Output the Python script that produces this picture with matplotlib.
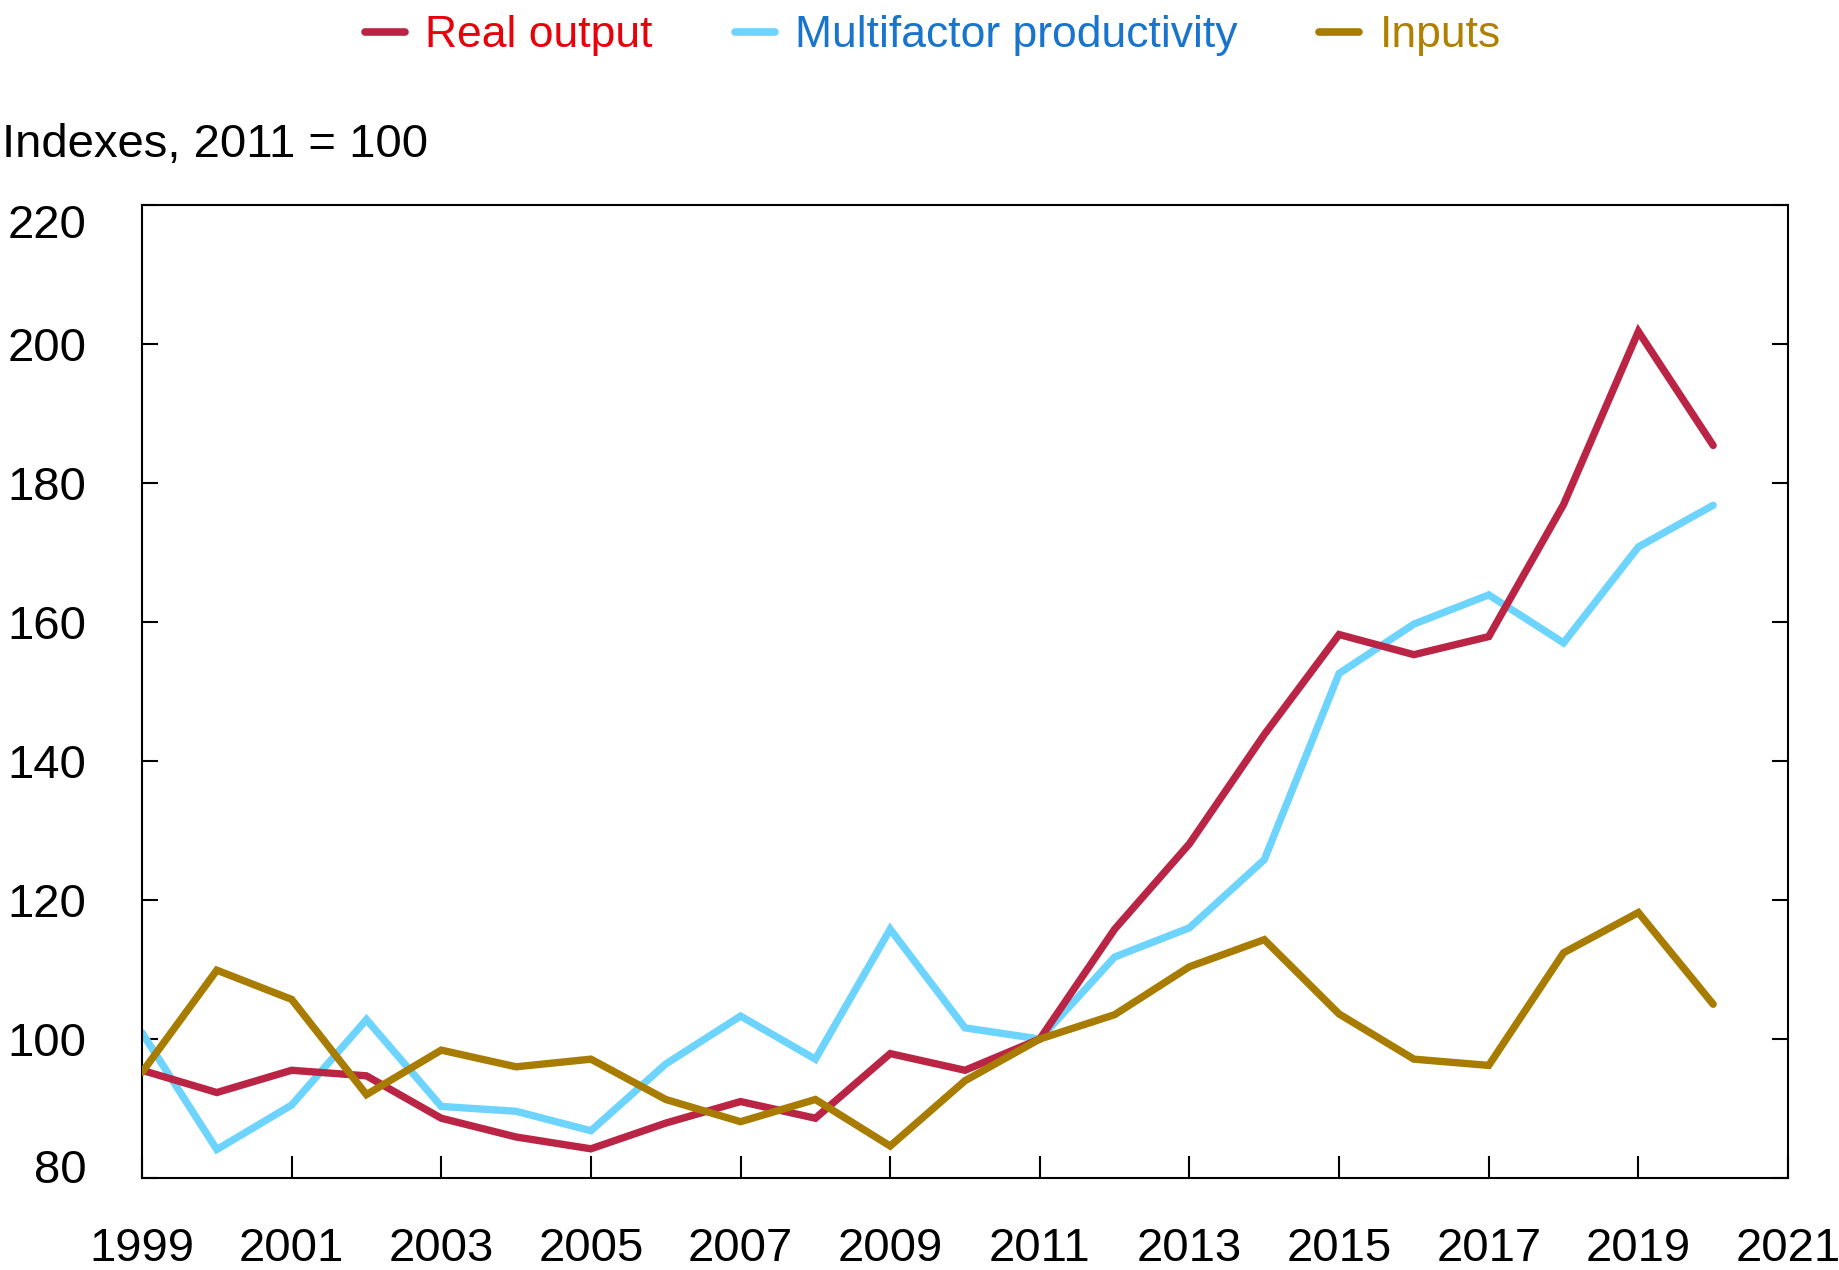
import matplotlib
matplotlib.use("Agg")
import matplotlib.pyplot as plt
import matplotlib.transforms as mtransforms
from matplotlib.lines import Line2D

plt.rcParams['font.family'] = ['Liberation Sans', 'DejaVu Sans']

years = list(range(1999, 2021))
real_output = [95.5, 92.3, 95.5, 94.7, 88.6, 85.9, 84.2, 87.9, 91.0, 88.6, 97.9,
               95.5, 100.0, 115.8, 128.1, 143.8, 158.2, 155.3, 157.9, 176.9, 201.8, 185.4]
mfp = [100.9, 84.1, 90.5, 102.8, 90.3, 89.6, 86.8, 96.4, 103.3, 97.1, 115.8,
       101.6, 100.0, 111.8, 116.0, 125.8, 152.6, 159.7, 163.9, 157.0, 170.8, 176.8]
inputs = [95.2, 109.9, 105.7, 92.0, 98.4, 96.0, 97.1, 91.3, 88.1, 91.3, 84.6,
          94.0, 100.0, 103.5, 110.4, 114.3, 103.6, 97.1, 96.2, 112.4, 118.2, 105.0]

series_labels = ["Real output", "Multifactor productivity", "Inputs"]
line_colors = ["#BA2545", "#6DD3FF", "#A87C00"]
text_colors = ["#E8000B", "#1874CD", "#B08000"]

x_ticks = list(range(1999, 2022, 2))
y_ticks = list(range(80, 221, 20))

fig = plt.figure(figsize=(18.4, 12.7), dpi=100)
ax = fig.add_axes([142/1840, 1 - 1178/1270, (1788-142)/1840, (1178-205)/1270])

lw = 5.3
ax.plot(years, real_output, color=line_colors[0], lw=lw, solid_joinstyle='miter', solid_capstyle='round', zorder=3)
ax.plot(years, mfp, color=line_colors[1], lw=lw, solid_joinstyle='miter', solid_capstyle='round', zorder=2)
ax.plot(years, inputs, color=line_colors[2], lw=lw, solid_joinstyle='miter', solid_capstyle='round', zorder=4)

ax.set_xlim(1999, 2021)
ax.set_ylim(80, 220)
ax.set_xticks(x_ticks)
ax.set_yticks(y_ticks)
ax.set_xticklabels([str(v) for v in x_ticks])
ax.set_yticklabels([str(v) for v in y_ticks])

for s in ax.spines.values():
    s.set_linewidth(1.5)
    s.set_color('black')

ax.tick_params(axis='x', direction='in', length=16, width=1.5, labelsize=34, pad=35, top=False)
ax.tick_params(axis='y', direction='in', length=11.5, width=1.5, labelsize=34, pad=40, left=True, right=True)

# small label offsets as in the reference
ylbls = ax.get_yticklabels()
ylbls[-1].set_transform(ylbls[-1].get_transform() + mtransforms.ScaledTranslation(0, -16/100, fig.dpi_scale_trans))
ylbls[0].set_transform(ylbls[0].get_transform() + mtransforms.ScaledTranslation(0, 12/100, fig.dpi_scale_trans))

fig.text(2/1840, 1 - 145/1270, "Indexes, 2011 = 100", fontsize=34, ha='left', va='center')

handles = [Line2D([0], [0], color=c, lw=5.5, solid_capstyle='round') for c in line_colors]
leg = fig.legend(handles, series_labels, loc='center', bbox_to_anchor=(0.507, 1 - 36/1270),
                 ncol=3, frameon=False, fontsize=32, handlelength=0.9, handletextpad=0.45,
                 columnspacing=1.85, labelcolor=text_colors)

fig.savefig("out.png", dpi=100)
